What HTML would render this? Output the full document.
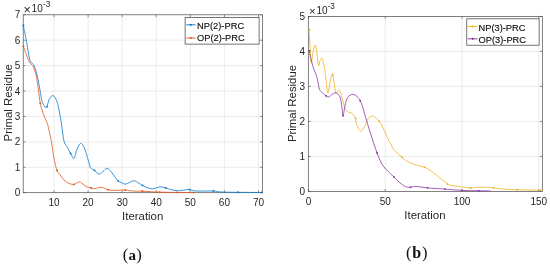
<!DOCTYPE html>
<html><head><meta charset="utf-8"><title>Primal Residue</title>
<style>
html,body{margin:0;padding:0;background:#fff}
svg{display:block}
.t{font-family:"Liberation Sans",sans-serif;font-size:10px;fill:#262626}
.l{font-family:"Liberation Sans",sans-serif;font-size:11.4px;fill:#262626}
.g{font-family:"Liberation Sans",sans-serif;font-size:9.3px;fill:#111;stroke:#111;stroke-width:0.15px}
.c{font-family:"Liberation Serif",serif;font-size:15px;fill:#111}
</style></head><body>
<svg width="550" height="264" viewBox="0 0 550 264">
<rect width="550" height="264" fill="#fff"/>
<line x1="54.06" y1="14.80" x2="54.06" y2="192.70" stroke="#dfdfdf" stroke-width="0.6"/><line x1="88.13" y1="14.80" x2="88.13" y2="192.70" stroke="#dfdfdf" stroke-width="0.6"/><line x1="122.20" y1="14.80" x2="122.20" y2="192.70" stroke="#dfdfdf" stroke-width="0.6"/><line x1="156.27" y1="14.80" x2="156.27" y2="192.70" stroke="#dfdfdf" stroke-width="0.6"/><line x1="190.34" y1="14.80" x2="190.34" y2="192.70" stroke="#dfdfdf" stroke-width="0.6"/><line x1="224.41" y1="14.80" x2="224.41" y2="192.70" stroke="#dfdfdf" stroke-width="0.6"/><line x1="258.48" y1="14.80" x2="258.48" y2="192.70" stroke="#dfdfdf" stroke-width="0.6"/><line x1="23.20" y1="167.29" x2="262.50" y2="167.29" stroke="#dfdfdf" stroke-width="0.6"/><line x1="23.20" y1="141.87" x2="262.50" y2="141.87" stroke="#dfdfdf" stroke-width="0.6"/><line x1="23.20" y1="116.46" x2="262.50" y2="116.46" stroke="#dfdfdf" stroke-width="0.6"/><line x1="23.20" y1="91.04" x2="262.50" y2="91.04" stroke="#dfdfdf" stroke-width="0.6"/><line x1="23.20" y1="65.63" x2="262.50" y2="65.63" stroke="#dfdfdf" stroke-width="0.6"/><line x1="23.20" y1="40.21" x2="262.50" y2="40.21" stroke="#dfdfdf" stroke-width="0.6"/>
<rect x="23.20" y="14.80" width="239.30" height="177.90" fill="none" stroke="#4a4a4a" stroke-width="0.7"/><path d="M54.06 192.70 v-2.40 M54.06 14.80 v2.40" stroke="#4a4a4a" stroke-width="0.6"/><path d="M88.13 192.70 v-2.40 M88.13 14.80 v2.40" stroke="#4a4a4a" stroke-width="0.6"/><path d="M122.20 192.70 v-2.40 M122.20 14.80 v2.40" stroke="#4a4a4a" stroke-width="0.6"/><path d="M156.27 192.70 v-2.40 M156.27 14.80 v2.40" stroke="#4a4a4a" stroke-width="0.6"/><path d="M190.34 192.70 v-2.40 M190.34 14.80 v2.40" stroke="#4a4a4a" stroke-width="0.6"/><path d="M224.41 192.70 v-2.40 M224.41 14.80 v2.40" stroke="#4a4a4a" stroke-width="0.6"/><path d="M258.48 192.70 v-2.40 M258.48 14.80 v2.40" stroke="#4a4a4a" stroke-width="0.6"/><path d="M23.20 192.70 h2.40 M262.50 192.70 h-2.40" stroke="#4a4a4a" stroke-width="0.6"/><path d="M23.20 167.29 h2.40 M262.50 167.29 h-2.40" stroke="#4a4a4a" stroke-width="0.6"/><path d="M23.20 141.87 h2.40 M262.50 141.87 h-2.40" stroke="#4a4a4a" stroke-width="0.6"/><path d="M23.20 116.46 h2.40 M262.50 116.46 h-2.40" stroke="#4a4a4a" stroke-width="0.6"/><path d="M23.20 91.04 h2.40 M262.50 91.04 h-2.40" stroke="#4a4a4a" stroke-width="0.6"/><path d="M23.20 65.63 h2.40 M262.50 65.63 h-2.40" stroke="#4a4a4a" stroke-width="0.6"/><path d="M23.20 40.21 h2.40 M262.50 40.21 h-2.40" stroke="#4a4a4a" stroke-width="0.6"/><path d="M23.20 14.80 h2.40 M262.50 14.80 h-2.40" stroke="#4a4a4a" stroke-width="0.6"/>
<path d="M23.20 25.25 C23.71 27.71 25.14 34.24 26.25 40.00 C27.36 45.76 28.54 55.53 29.85 59.80 C31.16 64.07 32.78 62.48 34.10 65.60 C35.42 68.72 36.72 73.85 37.80 78.50 C38.88 83.15 39.92 89.79 40.60 93.50 C41.28 97.21 41.17 98.50 41.90 100.75 C42.63 103.00 44.17 106.00 45.00 107.00 C45.83 108.00 46.17 108.10 46.90 106.75 C47.63 105.40 48.37 100.76 49.40 98.90 C50.43 97.04 51.85 95.18 53.10 95.60 C54.35 96.02 55.85 98.67 56.90 101.40 C57.95 104.13 58.63 108.23 59.40 112.00 C60.17 115.77 60.73 119.15 61.50 124.00 C62.27 128.85 63.00 137.20 64.00 141.10 C65.00 145.00 66.40 145.35 67.50 147.40 C68.60 149.45 69.52 151.57 70.60 153.40 C71.68 155.23 72.95 159.05 74.00 158.40 C75.05 157.75 75.80 152.02 76.90 149.50 C78.00 146.98 79.35 143.55 80.60 143.30 C81.85 143.05 83.25 145.59 84.40 148.00 C85.55 150.41 86.57 154.67 87.50 157.75 C88.43 160.83 89.38 164.71 90.00 166.50 C90.62 168.29 90.52 167.87 91.25 168.50 C91.98 169.13 93.08 169.37 94.40 170.30 C95.73 171.23 97.77 173.90 99.20 174.10 C100.63 174.30 101.72 172.47 103.00 171.50 C104.28 170.53 105.73 168.48 106.90 168.30 C108.07 168.12 108.75 169.12 110.00 170.40 C111.25 171.68 113.05 174.23 114.40 176.00 C115.75 177.77 117.00 179.95 118.10 181.00 C119.20 182.05 119.75 181.78 121.00 182.30 C122.25 182.82 123.47 184.36 125.60 184.10 C127.72 183.84 131.56 180.89 133.75 180.75 C135.94 180.61 137.29 182.47 138.75 183.25 C140.21 184.03 141.14 184.69 142.50 185.40 C143.86 186.11 145.23 186.94 146.90 187.50 C148.57 188.06 150.32 188.85 152.50 188.75 C154.68 188.65 157.82 187.04 160.00 186.90 C162.18 186.76 163.72 187.43 165.60 187.90 C167.47 188.38 169.06 189.28 171.25 189.75 C173.44 190.22 175.83 190.79 178.75 190.75 C181.67 190.71 185.83 189.46 188.75 189.50 C191.67 189.54 192.21 190.75 196.25 191.00 C200.29 191.25 208.42 190.82 213.00 191.00 C217.58 191.18 215.58 191.85 223.75 192.10 C231.92 192.35 255.62 192.43 262.00 192.50" fill="none" stroke="#0b7bd0" stroke-width="1.00" stroke-opacity="0.8" stroke-linejoin="round"/><circle cx="23.40" cy="25.25" r="0.95" fill="#0b7bd0"/><circle cx="47.20" cy="106.60" r="0.95" fill="#0b7bd0"/><circle cx="70.60" cy="153.40" r="0.95" fill="#0b7bd0"/><circle cx="94.60" cy="170.40" r="0.95" fill="#0b7bd0"/><circle cx="118.30" cy="181.10" r="0.95" fill="#0b7bd0"/><circle cx="142.50" cy="185.40" r="0.95" fill="#0b7bd0"/><circle cx="165.80" cy="187.90" r="0.95" fill="#0b7bd0"/><circle cx="189.50" cy="189.60" r="0.95" fill="#0b7bd0"/><circle cx="213.50" cy="191.00" r="0.95" fill="#0b7bd0"/><circle cx="238.00" cy="192.30" r="0.95" fill="#0b7bd0"/><circle cx="261.70" cy="192.50" r="0.95" fill="#0b7bd0"/>
<path d="M23.20 46.25 C23.60 47.29 24.58 49.86 25.60 52.50 C26.62 55.14 28.08 59.87 29.30 62.10 C30.52 64.33 31.88 64.17 32.90 65.90 C33.92 67.63 34.73 70.19 35.40 72.50 C36.07 74.81 36.34 76.50 36.90 79.75 C37.46 83.00 38.19 88.08 38.75 92.00 C39.31 95.92 39.52 99.71 40.25 103.25 C40.98 106.79 41.89 109.81 43.10 113.25 C44.31 116.69 46.56 121.23 47.50 123.90 C48.44 126.57 48.12 126.48 48.75 129.25 C49.38 132.02 50.58 136.96 51.25 140.50 C51.92 144.04 52.23 147.21 52.75 150.50 C53.27 153.79 53.71 156.95 54.40 160.25 C55.09 163.55 55.97 167.88 56.90 170.30 C57.83 172.72 58.86 173.18 60.00 174.75 C61.14 176.32 62.29 178.33 63.75 179.75 C65.21 181.17 67.08 182.47 68.75 183.25 C70.42 184.03 72.08 184.61 73.75 184.40 C75.42 184.19 77.39 182.19 78.75 182.00 C80.11 181.81 80.65 182.48 81.90 183.25 C83.15 184.02 84.69 185.82 86.25 186.60 C87.81 187.38 89.89 187.54 91.25 187.90 C92.61 188.26 93.15 188.82 94.40 188.75 C95.65 188.68 97.40 187.71 98.75 187.50 C100.10 187.29 100.94 187.12 102.50 187.50 C104.06 187.88 106.02 189.27 108.10 189.75 C110.18 190.23 112.18 190.36 115.00 190.40 C117.82 190.44 122.08 189.90 125.00 190.00 C127.92 190.10 129.58 190.79 132.50 191.00 C135.42 191.21 138.12 191.07 142.50 191.25 C146.88 191.43 153.33 191.91 158.75 192.10 C164.17 192.29 169.17 192.33 175.00 192.40 C180.83 192.47 190.62 192.48 193.75 192.50" fill="none" stroke="#e0581c" stroke-width="1.00" stroke-opacity="0.8" stroke-linejoin="round"/><circle cx="23.40" cy="46.25" r="0.95" fill="#e0581c"/><circle cx="40.30" cy="103.25" r="0.95" fill="#e0581c"/><circle cx="57.10" cy="170.40" r="0.95" fill="#e0581c"/><circle cx="73.75" cy="184.40" r="0.95" fill="#e0581c"/><circle cx="91.25" cy="187.90" r="0.95" fill="#e0581c"/><circle cx="108.10" cy="189.75" r="0.95" fill="#e0581c"/><circle cx="125.00" cy="190.00" r="0.95" fill="#e0581c"/><circle cx="142.50" cy="191.25" r="0.95" fill="#e0581c"/><circle cx="159.50" cy="192.10" r="0.95" fill="#e0581c"/><circle cx="176.50" cy="192.40" r="0.95" fill="#e0581c"/><circle cx="193.50" cy="192.50" r="0.95" fill="#e0581c"/>
<text x="54.06" y="205.9" text-anchor="middle" class="t">10</text>
<text x="88.13" y="205.9" text-anchor="middle" class="t">20</text>
<text x="122.20" y="205.9" text-anchor="middle" class="t">30</text>
<text x="156.27" y="205.9" text-anchor="middle" class="t">40</text>
<text x="190.34" y="205.9" text-anchor="middle" class="t">50</text>
<text x="224.41" y="205.9" text-anchor="middle" class="t">60</text>
<text x="258.48" y="205.9" text-anchor="middle" class="t">70</text>
<text x="20.2" y="196.30" text-anchor="end" class="t">0</text>
<text x="20.2" y="170.89" text-anchor="end" class="t">1</text>
<text x="20.2" y="145.47" text-anchor="end" class="t">2</text>
<text x="20.2" y="120.06" text-anchor="end" class="t">3</text>
<text x="20.2" y="94.64" text-anchor="end" class="t">4</text>
<text x="20.2" y="69.23" text-anchor="end" class="t">5</text>
<text x="20.2" y="43.81" text-anchor="end" class="t">6</text>
<text x="20.2" y="18.40" text-anchor="end" class="t">7</text>
<text x="23.6" y="14" class="t" style="font-size:12.5px">×</text><text x="31.6" y="12.3" class="t">10</text><text x="43" y="6.9" class="t" style="font-size:8.2px">-3</text>
<text x="142.7" y="220" text-anchor="middle" class="l">Iteration</text>
<text transform="translate(11.7 102.8) rotate(-90)" text-anchor="middle" class="l">Primal Residue</text>
<rect x="185.1" y="17.5" width="74" height="26.6" fill="#fff" stroke="#3a3a3a" stroke-width="0.7"/>
<path d="M186.3 24.8H195.5" stroke="#0072BD" stroke-width="0.9"/><circle cx="190.8" cy="24.8" r="1" fill="#0072BD"/>
<path d="M186.3 38H195.5" stroke="#D95319" stroke-width="0.9"/><circle cx="190.8" cy="38" r="1" fill="#D95319"/>
<text x="197.1" y="29.4" class="g">NP(2)-PRC</text>
<text x="197.1" y="41.3" class="g">OP(2)-PRC</text>
<text y="259.5" class="c"><tspan x="122.7" style="font-size:16.5px">(</tspan><tspan x="128.45" font-weight="bold">a</tspan><tspan x="136.2" style="font-size:16.5px">)</tspan></text>
<line x1="385.25" y1="16.40" x2="385.25" y2="191.45" stroke="#dfdfdf" stroke-width="0.6"/><line x1="462.00" y1="16.40" x2="462.00" y2="191.45" stroke="#dfdfdf" stroke-width="0.6"/><line x1="538.75" y1="16.40" x2="538.75" y2="191.45" stroke="#dfdfdf" stroke-width="0.6"/><line x1="308.30" y1="156.44" x2="542.30" y2="156.44" stroke="#dfdfdf" stroke-width="0.6"/><line x1="308.30" y1="121.43" x2="542.30" y2="121.43" stroke="#dfdfdf" stroke-width="0.6"/><line x1="308.30" y1="86.42" x2="542.30" y2="86.42" stroke="#dfdfdf" stroke-width="0.6"/><line x1="308.30" y1="51.41" x2="542.30" y2="51.41" stroke="#dfdfdf" stroke-width="0.6"/>
<rect x="308.30" y="16.40" width="234.00" height="175.05" fill="none" stroke="#4a4a4a" stroke-width="0.7"/><path d="M308.50 191.45 v-2.40 M308.50 16.40 v2.40" stroke="#4a4a4a" stroke-width="0.6"/><path d="M385.25 191.45 v-2.40 M385.25 16.40 v2.40" stroke="#4a4a4a" stroke-width="0.6"/><path d="M462.00 191.45 v-2.40 M462.00 16.40 v2.40" stroke="#4a4a4a" stroke-width="0.6"/><path d="M538.75 191.45 v-2.40 M538.75 16.40 v2.40" stroke="#4a4a4a" stroke-width="0.6"/><path d="M308.30 191.45 h2.40 M542.30 191.45 h-2.40" stroke="#4a4a4a" stroke-width="0.6"/><path d="M308.30 156.44 h2.40 M542.30 156.44 h-2.40" stroke="#4a4a4a" stroke-width="0.6"/><path d="M308.30 121.43 h2.40 M542.30 121.43 h-2.40" stroke="#4a4a4a" stroke-width="0.6"/><path d="M308.30 86.42 h2.40 M542.30 86.42 h-2.40" stroke="#4a4a4a" stroke-width="0.6"/><path d="M308.30 51.41 h2.40 M542.30 51.41 h-2.40" stroke="#4a4a4a" stroke-width="0.6"/><path d="M308.30 16.40 h2.40 M542.30 16.40 h-2.40" stroke="#4a4a4a" stroke-width="0.6"/>
<path d="M309.10 29.60 C309.25 32.38 309.64 40.67 310.00 46.25 C310.36 51.83 310.73 62.27 311.25 63.10 C311.77 63.93 312.43 54.27 313.10 51.25 C313.77 48.23 314.68 45.21 315.25 45.00 C315.82 44.79 315.96 46.57 316.50 50.00 C317.04 53.43 317.92 63.83 318.50 65.60 C319.08 67.37 319.43 61.85 320.00 60.60 C320.57 59.35 321.38 57.99 321.90 58.10 C322.42 58.21 322.58 59.06 323.10 61.25 C323.62 63.44 324.58 68.79 325.00 71.25 C325.42 73.71 325.14 72.39 325.60 76.00 C326.06 79.61 327.02 91.86 327.75 92.90 C328.48 93.94 329.21 85.32 330.00 82.25 C330.79 79.18 331.83 74.50 332.50 74.50 C333.17 74.50 333.48 79.18 334.00 82.25 C334.52 85.32 335.12 91.23 335.60 92.90 C336.08 94.57 336.33 92.73 336.90 92.25 C337.47 91.77 338.38 89.96 339.00 90.00 C339.62 90.04 340.02 90.92 340.60 92.50 C341.18 94.08 341.77 96.88 342.50 99.50 C343.23 102.12 344.07 106.17 345.00 108.25 C345.93 110.33 346.95 111.17 348.10 112.00 C349.25 112.83 350.85 112.52 351.90 113.25 C352.95 113.98 353.78 115.57 354.40 116.40 C355.02 117.23 355.25 116.94 355.60 118.25 C355.95 119.56 355.67 122.11 356.50 124.25 C357.33 126.39 359.28 130.68 360.60 131.10 C361.92 131.52 363.10 128.85 364.40 126.75 C365.70 124.65 367.05 120.29 368.40 118.50 C369.75 116.71 371.19 116.04 372.50 116.00 C373.81 115.96 375.21 117.45 376.25 118.25 C377.29 119.05 377.71 119.38 378.75 120.80 C379.79 122.22 381.14 124.09 382.50 126.75 C383.86 129.41 385.44 133.72 386.90 136.75 C388.36 139.78 390.11 142.76 391.25 144.90 C392.39 147.04 391.98 147.57 393.75 149.60 C395.52 151.63 399.71 155.16 401.90 157.10 C404.09 159.04 405.13 160.14 406.90 161.25 C408.67 162.36 410.32 162.97 412.50 163.75 C414.68 164.53 418.02 165.34 420.00 165.90 C421.98 166.46 422.52 166.25 424.40 167.10 C426.27 167.95 428.86 169.31 431.25 171.00 C433.64 172.69 436.46 175.43 438.75 177.25 C441.04 179.07 443.33 180.65 445.00 181.90 C446.67 183.15 447.08 184.07 448.75 184.75 C450.42 185.43 452.71 185.64 455.00 186.00 C457.29 186.36 459.90 186.58 462.50 186.90 C465.10 187.22 467.89 187.84 470.60 187.90 C473.31 187.96 475.93 187.36 478.75 187.25 C481.57 187.14 485.00 187.14 487.50 187.25 C490.00 187.36 491.04 187.59 493.75 187.90 C496.46 188.21 499.83 188.79 503.75 189.10 C507.67 189.41 511.04 189.56 517.25 189.75 C523.46 189.94 537.04 190.17 541.00 190.25" fill="none" stroke="#EDB120" stroke-width="1.00" stroke-opacity="0.8" stroke-linejoin="round"/><circle cx="309.60" cy="29.60" r="0.95" fill="#EDB120"/><circle cx="332.50" cy="74.50" r="0.95" fill="#EDB120"/><circle cx="355.60" cy="118.25" r="0.95" fill="#EDB120"/><circle cx="378.75" cy="120.90" r="0.95" fill="#EDB120"/><circle cx="401.90" cy="157.10" r="0.95" fill="#EDB120"/><circle cx="424.40" cy="167.10" r="0.95" fill="#EDB120"/><circle cx="447.50" cy="184.10" r="0.95" fill="#EDB120"/><circle cx="470.60" cy="187.90" r="0.95" fill="#EDB120"/><circle cx="493.75" cy="187.90" r="0.95" fill="#EDB120"/><circle cx="517.25" cy="189.75" r="0.95" fill="#EDB120"/><circle cx="540.30" cy="190.25" r="0.95" fill="#EDB120"/>
<path d="M309.00 50.60 C309.27 51.75 309.92 54.78 310.60 57.50 C311.28 60.22 312.27 64.23 313.10 66.90 C313.93 69.57 314.87 71.36 315.60 73.50 C316.33 75.64 316.87 77.15 317.50 79.75 C318.13 82.35 318.57 86.91 319.40 89.10 C320.23 91.29 321.36 91.77 322.50 92.90 C323.64 94.03 325.25 95.20 326.25 95.90 C327.25 96.60 327.46 97.40 328.50 97.10 C329.54 96.80 331.21 94.78 332.50 94.10 C333.79 93.42 335.00 92.52 336.25 93.00 C337.50 93.48 339.06 94.67 340.00 97.00 C340.94 99.33 341.38 103.88 341.90 107.00 C342.42 110.12 342.58 115.96 343.10 115.75 C343.62 115.54 344.27 108.78 345.00 105.75 C345.73 102.72 346.22 99.51 347.50 97.60 C348.78 95.69 351.08 94.45 352.70 94.30 C354.32 94.15 355.94 95.62 357.20 96.70 C358.46 97.78 359.27 98.83 360.25 100.75 C361.23 102.67 362.21 105.46 363.10 108.25 C363.99 111.04 364.45 113.58 365.60 117.50 C366.75 121.42 368.64 127.42 370.00 131.75 C371.36 136.08 372.57 139.96 373.75 143.50 C374.93 147.04 376.06 150.21 377.10 153.00 C378.14 155.79 379.00 158.10 380.00 160.25 C381.00 162.40 381.64 163.93 383.10 165.90 C384.56 167.88 386.93 170.25 388.75 172.10 C390.57 173.95 392.12 175.20 394.00 177.00 C395.88 178.80 398.07 181.30 400.00 182.90 C401.93 184.50 403.83 185.88 405.60 186.60 C407.37 187.32 408.93 187.28 410.60 187.25 C412.27 187.22 412.78 186.29 415.60 186.40 C418.42 186.51 422.60 187.45 427.50 187.90 C432.40 188.35 439.27 188.68 445.00 189.10 C450.73 189.52 456.27 190.12 461.90 190.40 C467.52 190.68 473.97 190.65 478.75 190.75 C483.53 190.85 488.62 190.96 490.60 191.00" fill="none" stroke="#8b3a9f" stroke-width="1.00" stroke-opacity="0.8" stroke-linejoin="round"/><circle cx="309.40" cy="50.60" r="0.95" fill="#8b3a9f"/><circle cx="326.25" cy="95.90" r="0.95" fill="#8b3a9f"/><circle cx="343.10" cy="115.75" r="0.95" fill="#8b3a9f"/><circle cx="360.25" cy="100.75" r="0.95" fill="#8b3a9f"/><circle cx="377.10" cy="153.00" r="0.95" fill="#8b3a9f"/><circle cx="394.00" cy="177.00" r="0.95" fill="#8b3a9f"/><circle cx="410.60" cy="187.25" r="0.95" fill="#8b3a9f"/><circle cx="427.50" cy="187.90" r="0.95" fill="#8b3a9f"/><circle cx="445.00" cy="189.10" r="0.95" fill="#8b3a9f"/><circle cx="461.90" cy="190.40" r="0.95" fill="#8b3a9f"/><circle cx="478.75" cy="190.75" r="0.95" fill="#8b3a9f"/>
<text x="308.50" y="204.5" text-anchor="middle" class="t">0</text>
<text x="385.25" y="204.5" text-anchor="middle" class="t">50</text>
<text x="462.00" y="204.5" text-anchor="middle" class="t">100</text>
<text x="538.75" y="204.5" text-anchor="middle" class="t">150</text>
<text x="305.1" y="195.20" text-anchor="end" class="t">0</text>
<text x="305.1" y="160.19" text-anchor="end" class="t">1</text>
<text x="305.1" y="125.18" text-anchor="end" class="t">2</text>
<text x="305.1" y="90.17" text-anchor="end" class="t">3</text>
<text x="305.1" y="55.16" text-anchor="end" class="t">4</text>
<text x="305.1" y="20.15" text-anchor="end" class="t">5</text>
<text x="308.9" y="15.1" class="t" style="font-size:11.5px">×</text><text x="316.5" y="13.6" class="t">10</text><text x="327.6" y="8.5" class="t" style="font-size:8.2px">-3</text>
<text x="424.9" y="218.7" text-anchor="middle" class="l">Iteration</text>
<text transform="translate(296.2 103.5) rotate(-90)" text-anchor="middle" class="l">Primal Residue</text>
<rect x="466.8" y="18.8" width="72.3" height="26.4" fill="#fff" stroke="#3a3a3a" stroke-width="0.7"/>
<path d="M467.8 26.4H477.5" stroke="#EDB120" stroke-width="0.9"/><circle cx="472.7" cy="26.4" r="1" fill="#EDB120"/>
<path d="M467.8 38.8H477.5" stroke="#7E2F8E" stroke-width="0.9"/><circle cx="472.7" cy="38.8" r="1" fill="#7E2F8E"/>
<text x="478.5" y="31.1" class="g">NP(3)-PRC</text>
<text x="478.5" y="42.5" class="g">OP(3)-PRC</text>
<text y="258" class="c"><tspan x="406.1" style="font-size:16.5px">(</tspan><tspan x="412.2" font-weight="bold" style="font-size:16px">b</tspan><tspan x="422.1" style="font-size:16.5px">)</tspan></text>
</svg>
</body></html>
